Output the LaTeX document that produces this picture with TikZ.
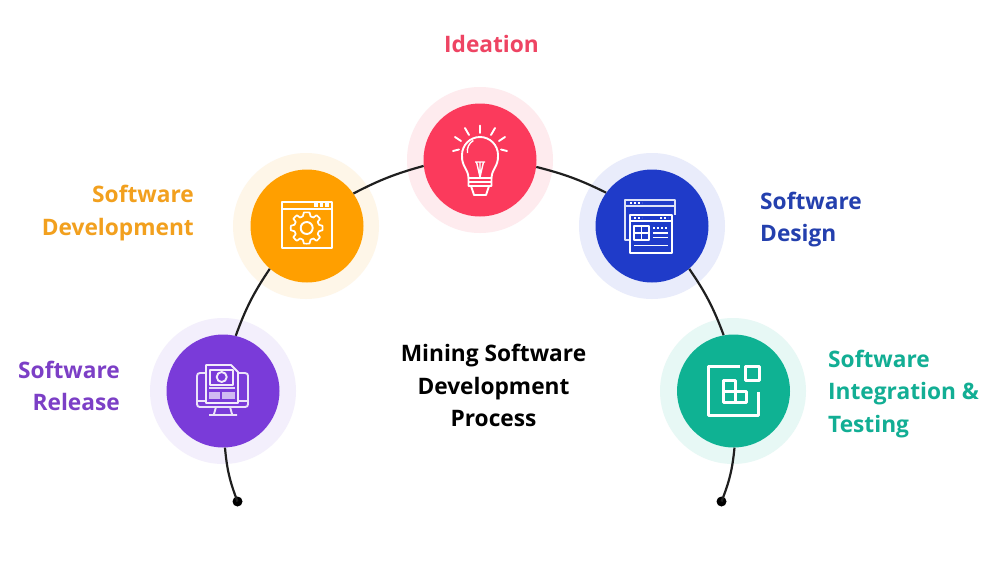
\documentclass[tikz,border=0pt]{standalone}
\usepackage{fontspec}
\setmainfont{Open Sans}
\definecolor{cidea}{HTML}{FB3A5C}
\definecolor{hidea}{HTML}{FEEBEE}
\definecolor{tidea}{HTML}{EE4463}
\definecolor{cdev}{HTML}{FF9F00}
\definecolor{hdev}{HTML}{FEF6E8}
\definecolor{tdev}{HTML}{F2A01E}
\definecolor{cdes}{HTML}{1F3BC9}
\definecolor{hdes}{HTML}{E9ECFB}
\definecolor{tdes}{HTML}{2440AE}
\definecolor{crel}{HTML}{7A3BD9}
\definecolor{hrel}{HTML}{F3EFFC}
\definecolor{trel}{HTML}{7C3FC6}
\definecolor{ctes}{HTML}{0FB293}
\definecolor{htes}{HTML}{E7F8F5}
\definecolor{ttes}{HTML}{12AE94}
\tikzset{
  halo/.style={circle,minimum size=146pt,inner sep=0pt,fill=#1},
  disc/.style={circle,minimum size=113pt,inner sep=0pt,fill=#1},
  link/.style={line width=2.2pt,color=black!88},
  enddot/.style={circle,minimum size=10pt,inner sep=0pt,fill=black},
  lbl/.style={font=\fontsize{22.7}{32.5}\selectfont\bfseries,text=#1,inner sep=0pt},
  ico/.style={draw=white,line width=1.9pt,line join=round,fill=none},
  icothin/.style={draw=white,line width=1.4pt,line join=round,fill=none}
}
\begin{document}
\begin{tikzpicture}[x=1pt,y=1pt]
\useasboundingbox (0,0) rectangle (1003,-581);
\fill[white] (0,0) rectangle (1003,-581);
% halos
\node[halo=hidea] (hi) at (480,-160) {};
\node[halo=hdev] (hd) at (306,-226) {};
\node[halo=hdes] (hs) at (652,-226) {};
\node[halo=hrel] (hr) at (223,-391) {};
\node[halo=htes] (ht) at (733,-391) {};
% discs
\node[disc=cidea] (idea) at (480,-160) {};
\node[disc=cdev] (dev) at (307,-226) {};
\node[disc=cdes] (des) at (652,-226) {};
\node[disc=crel] (rel) at (223,-391) {};
\node[disc=ctes] (tes) at (733.5,-391) {};
\node[enddot] (dl) at (237.5,-501.5) {};
\node[enddot] (dr) at (721.5,-501.5) {};
% connectors
\draw[link] (dl.center) to[bend left=8] (rel.272);
\draw[link] (rel.77) to[bend left=7] (dev.229);
\draw[link] (dev.35) to[bend left=6] (idea.186);
\draw[link] (idea.353) to[bend left=6] (des.144);
\draw[link] (des.311) to[bend left=7] (tes.100);
\draw[link] (tes.271) to[bend left=8] (dr.center);
% bulb icon
\draw[ico] (468.5,-178) .. controls (468,-168) and (461.5,-167) .. (462,-155)
  arc[start angle=180,end angle=0,radius=18]
  .. controls (498.5,-167) and (492,-168) .. (491.5,-178) -- cycle;
\draw[icothin] (475,-162) -- (485,-162) (476.5,-162) -- (480,-177) -- (483.5,-162) (480,-177) -- (480,-162);
\draw[icothin] (467.5,-153) arc[start angle=190,end angle=120,radius=12];
\draw[ico] (468.5,-178) -- (468.5,-186) -- (491.5,-186) -- (491.5,-178)
  (468.5,-182) -- (491.5,-182) (471,-186) -- (474,-195) -- (486,-195) -- (489,-186);
\draw[ico,line cap=round] (480,-125.5) -- (480,-133) (465,-128) -- (469,-135) (495,-128) -- (491,-135)
  (455,-137) -- (461,-141) (505,-137) -- (499,-141) (453,-151) -- (459,-149.5) (507,-151) -- (501,-149.5);
% window + gear icon
\draw[ico,line width=2.2pt] (281.7,-201.7) rectangle (331.7,-248.3);
\draw[ico] (281.7,-208.8) -- (331.7,-208.8);
\foreach \dx in {314,319.5,325} \fill[white] (\dx,-203) rectangle +(3.5,-4);
\draw[ico,line width=1.7pt] plot[smooth cycle,tension=.2] coordinates {
  (303.9,-212.5) (309.5,-212.5) (310.5,-216.2) (313.5,-217.5) (316.5,-215.2) (320,-218.8) (317.7,-221.8) (319,-224.8) (322.5,-225.8) (322.5,-230.2) (319,-231.2) (317.7,-234.2) (320,-237.2) (316.5,-240.8) (313.5,-238.5) (310.5,-239.8) (309.5,-243.5) (303.9,-243.5) (302.9,-239.8) (299.9,-238.5) (296.9,-240.8) (293.4,-237.2) (295.7,-234.2) (294.4,-231.2) (290.9,-230.2) (290.9,-225.8) (294.4,-224.8) (295.7,-221.8) (293.4,-218.8) (296.9,-215.2) (299.9,-217.5) (302.9,-216.2)};
\draw[ico] (306.7,-228) circle[radius=6];
% design icon
\draw[ico,white!85!cdes] (630,-240) -- (625,-240) -- (625,-200) -- (675,-200) -- (675,-215);
\draw[icothin,white!85!cdes] (625,-206) -- (675,-206);
\fill[cdes] (630,-215) rectangle (672,-253);
\draw[ico] (630,-215) rectangle (672,-253);
\draw[icothin] (630,-221) -- (672,-221);
\draw[ico] (634,-226) rectangle (649,-240) (641.5,-226) -- (641.5,-240) (634,-233) -- (649,-233);
\draw[icothin] (653,-233) -- (668,-233) (653,-237.5) -- (668,-237.5) (634,-245.5) -- (668,-245.5);
\draw[white,line width=1.8pt,dash pattern=on 2pt off 2pt] (653,-228) -- (668,-228) (630,-203) -- (642,-203) (634,-218) -- (642,-218) (660,-218) -- (668,-218);
% release icon
\draw[ico,white!85!crel] (206,-373) -- (200,-373) .. controls (198,-373) and (197,-374) .. (197,-376) -- (197,-404) .. controls (197,-406) and (198,-407) .. (200,-407) -- (245,-407) .. controls (247,-407) and (248,-406) .. (248,-404) -- (248,-376) .. controls (248,-374) and (247,-373) .. (245,-373) -- (238,-373);
\draw[icothin,white!85!crel] (197,-401) -- (206,-401) (238,-401) -- (248,-401);
\draw[ico,white!85!crel] (216,-407) -- (214,-414) (230,-407) -- (232,-414) (209,-415) -- (237,-415);
\draw[ico,white!90!crel] (206,-403) -- (206,-365) -- (231,-365) -- (238,-372) -- (238,-403) -- cycle;
\draw[ico,white!90!crel] (210,-370) rectangle (233,-385);
\draw[ico,white!90!crel] (221.7,-377) circle[radius=5];
\draw[white!80!crel,line width=1.8pt] (209,-388) -- (235,-388);
\fill[white!65!crel] (209,-391.5) rectangle (219.5,-399);
\fill[white!65!crel] (222,-391.5) rectangle (235,-399);
% testing icon
\draw[ico,line width=3pt] (740,-366.7) -- (708.3,-366.7) -- (708.3,-415) -- (758.3,-415) -- (758.3,-391.7);
\draw[ico,line width=3pt] (745.7,-366.7) rectangle (759,-380);
\draw[ico,line width=3pt] (723.3,-380) rectangle (735,-391.7)
  (723.3,-391.7) rectangle (735,-402.3) (735,-391.7) rectangle (746.7,-402.3);
% labels
\node[lbl=tidea] (tlidea) at (491.5,-43.5) {Ideation};
\node[lbl=tdev,align=right,anchor=east] (tldev) at (194,-213) {Software\\Development};
\node[lbl=tdes,align=left,anchor=west] (tldes) at (760,-219.5) {Software\\Design};
\node[lbl=trel,align=right,anchor=east] (tlrel) at (120,-386) {Software\\Release};
\node[lbl=ttes,align=left,anchor=west] (tltes) at (828,-394) {Software\\Integration \&\\Testing};
\node[lbl=black,align=center] (tlmid) at (493.5,-385.5) {Mining Software\\Development\\Process};
\end{tikzpicture}
\end{document}
